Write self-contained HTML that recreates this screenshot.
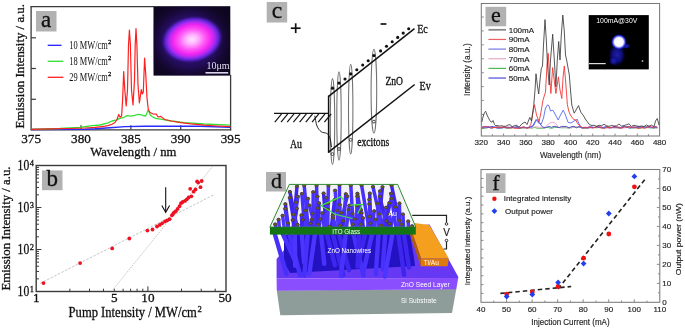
<!DOCTYPE html>
<html><head><meta charset="utf-8"><title>figure</title><style>
html,body{margin:0;padding:0;background:#fff;width:685px;height:328px;overflow:hidden}
svg{display:block}
</style></head><body>
<svg width="685" height="328" viewBox="0 0 685 328">
<rect width="685" height="328" fill="#fff"/>
<g id="pa">
<line x1="31.1" y1="6.6" x2="31.1" y2="129.8" stroke="#3a3a3a" stroke-width="1.3" />
<line x1="30.5" y1="129.8" x2="231.2" y2="129.8" stroke="#3a3a3a" stroke-width="1.3" />
<line x1="30.5" y1="6.6" x2="154" y2="6.6" stroke="#3a3a3a" stroke-width="1.3" />
<line x1="230.6" y1="75" x2="230.6" y2="130.4" stroke="#3a3a3a" stroke-width="1.3" />
<line x1="31.1" y1="37.8" x2="35.9" y2="37.8" stroke="#3a3a3a" stroke-width="1.2" />
<line x1="31.1" y1="68.5" x2="35.9" y2="68.5" stroke="#3a3a3a" stroke-width="1.2" />
<line x1="31.1" y1="99.3" x2="35.9" y2="99.3" stroke="#3a3a3a" stroke-width="1.2" />
<line x1="80.975" y1="129.8" x2="80.975" y2="125.30000000000001" stroke="#3a3a3a" stroke-width="1.2" />
<line x1="130.85" y1="129.8" x2="130.85" y2="125.30000000000001" stroke="#3a3a3a" stroke-width="1.2" />
<line x1="180.725" y1="129.8" x2="180.725" y2="125.30000000000001" stroke="#3a3a3a" stroke-width="1.2" />
<text x="31.1" y="143.2" font-family='"Liberation Serif",serif' font-size="13.2" text-anchor="middle" fill="#111" stroke="#111" stroke-width="0.3" >375</text>
<text x="80.975" y="143.2" font-family='"Liberation Serif",serif' font-size="13.2" text-anchor="middle" fill="#111" stroke="#111" stroke-width="0.3" >380</text>
<text x="130.85" y="143.2" font-family='"Liberation Serif",serif' font-size="13.2" text-anchor="middle" fill="#111" stroke="#111" stroke-width="0.3" >385</text>
<text x="180.725" y="143.2" font-family='"Liberation Serif",serif' font-size="13.2" text-anchor="middle" fill="#111" stroke="#111" stroke-width="0.3" >390</text>
<text x="230.6" y="143.2" font-family='"Liberation Serif",serif' font-size="13.2" text-anchor="middle" fill="#111" stroke="#111" stroke-width="0.3" >395</text>
<text x="133.3" y="156.3" font-family='"Liberation Serif",serif' font-size="13.4" text-anchor="middle" fill="#111" stroke="#111" stroke-width="0.3" textLength="86" lengthAdjust="spacingAndGlyphs">Wavelength / nm</text>
<text x="0" y="0" font-family='"Liberation Serif",serif' font-size="13.1" text-anchor="middle" fill="#111" stroke="#111" stroke-width="0.3" transform="translate(23.8,66.3) rotate(-90)" textLength="124.5" lengthAdjust="spacingAndGlyphs">Emission Intensity / a.u.</text>
<rect x="36" y="11" width="20.5" height="20.5" fill="#b2b2b2"/>
<text x="46.2" y="26.5" font-family='"Liberation Serif",serif' font-size="23" text-anchor="middle" fill="#111" stroke="#111" stroke-width="0.3" >a</text>
<line x1="47.7" y1="45.3" x2="61.5" y2="45.3" stroke="#2020ff" stroke-width="1.3" />
<text x="69.3" y="49.199999999999996" font-family='"Liberation Serif",serif' font-size="11.6" fill="#111" textLength="38.4" lengthAdjust="spacingAndGlyphs">10 MW/cm</text>
<text x="108" y="43.699999999999996" font-family='"Liberation Serif",serif' font-size="6.6" text-anchor="start" fill="#111" stroke="#111" stroke-width="0.3" >2</text>
<line x1="47.7" y1="61.3" x2="63.4" y2="61.3" stroke="#30e030" stroke-width="1.3" />
<text x="69.3" y="65.2" font-family='"Liberation Serif",serif' font-size="11.6" fill="#111" textLength="38.4" lengthAdjust="spacingAndGlyphs">18 MW/cm</text>
<text x="108" y="59.699999999999996" font-family='"Liberation Serif",serif' font-size="6.6" text-anchor="start" fill="#111" stroke="#111" stroke-width="0.3" >2</text>
<line x1="47.7" y1="77.3" x2="63.4" y2="77.3" stroke="#ff2020" stroke-width="1.3" />
<text x="69.3" y="81.2" font-family='"Liberation Serif",serif' font-size="11.6" fill="#111" textLength="38.4" lengthAdjust="spacingAndGlyphs">29 MW/cm</text>
<text x="108" y="75.7" font-family='"Liberation Serif",serif' font-size="6.6" text-anchor="start" fill="#111" stroke="#111" stroke-width="0.3" >2</text>
<path d="M31.00,129.50 L70.00,129.40 L85.00,129.20 L95.00,128.80 L110.00,127.70 L125.00,126.60 L145.00,126.30 L200.00,126.30 L230.40,127.30" fill="none" stroke="#2a2aff" stroke-width="1.4" stroke-linejoin="round"/>
<path d="M31.00,129.30 L60.00,128.50 L80.00,127.50 L90.00,125.90 L100.00,125.00 L108.00,122.90 L112.00,121.00 L116.00,120.10 L120.00,118.30 L124.00,117.30 L127.20,115.60 L130.30,116.20 L134.80,115.40 L137.50,114.50 L140.90,114.70 L143.00,115.50 L145.50,116.20 L147.00,113.00 L147.80,110.40 L148.70,111.00 L150.30,115.10 L152.00,116.50 L155.50,118.40 L162.10,119.40 L171.30,121.00 L184.40,122.60 L204.10,124.00 L230.40,125.20" fill="none" stroke="#35e035" stroke-width="1.3" stroke-linejoin="round"/>
<path d="M31.00,129.30 L50.00,128.90 L70.00,128.50 L85.00,128.00 L95.00,127.30 L100.00,126.80 L105.00,126.20 L108.00,125.60 L112.00,124.30 L115.00,122.50 L117.00,119.50 L118.70,114.50 L120.20,117.20 L121.60,116.00 L122.60,100.00 L123.70,71.50 L124.80,90.00 L126.20,106.00 L127.50,90.00 L128.50,45.00 L129.40,30.00 L130.40,45.00 L131.50,90.00 L133.00,105.00 L134.50,80.00 L135.20,45.00 L136.00,28.50 L136.90,45.00 L138.00,85.00 L139.40,103.00 L140.50,95.00 L141.30,89.50 L142.30,94.00 L143.30,92.00 L144.60,58.00 L145.80,75.00 L147.00,98.00 L148.30,109.50 L150.00,112.50 L152.90,113.80 L156.20,114.20 L158.10,117.00 L160.80,116.40 L164.70,119.50 L171.30,121.00 L180.50,122.60 L191.00,123.90 L204.10,125.20 L217.30,126.00 L230.40,126.70" fill="none" stroke="#ff2020" stroke-width="1.2" stroke-linejoin="round"/>
<defs>
<radialGradient id="ga" cx="0.5" cy="0.5" r="0.5">
<stop offset="0" stop-color="#ffe4ff"/>
<stop offset="0.2" stop-color="#ffb0ff"/>
<stop offset="0.42" stop-color="#ff58f6"/>
<stop offset="0.62" stop-color="#f024f0"/>
<stop offset="0.74" stop-color="#a82cf0"/>
<stop offset="0.86" stop-color="#5a22d0"/>
<stop offset="1" stop-color="#2a1070" stop-opacity="0"/>
</radialGradient>
<radialGradient id="ga2" cx="0.5" cy="0.5" r="0.5">
<stop offset="0" stop-color="#5020c0" stop-opacity="0.9"/>
<stop offset="0.6" stop-color="#30107a" stop-opacity="0.6"/>
<stop offset="1" stop-color="#0e0620" stop-opacity="0"/>
</radialGradient>
<radialGradient id="ge" cx="0.5" cy="0.5" r="0.5">
<stop offset="0" stop-color="#ffffff"/>
<stop offset="0.55" stop-color="#fafaff"/>
<stop offset="0.68" stop-color="#9090ff"/>
<stop offset="0.84" stop-color="#2020c0"/>
<stop offset="1" stop-color="#0000a0" stop-opacity="0"/>
</radialGradient>
<radialGradient id="ge2" cx="0.5" cy="0.5" r="0.5">
<stop offset="0" stop-color="#2a2ad8"/>
<stop offset="0.55" stop-color="#1414a8"/>
<stop offset="1" stop-color="#000040" stop-opacity="0"/>
</radialGradient>
</defs>
<rect x="153.5" y="6.2" width="76.8" height="69.4" fill="#0e0620"/>
<clipPath id="cpa"><rect x="153.5" y="6.2" width="76.8" height="69.4"/></clipPath><g clip-path="url(#cpa)"><ellipse cx="190" cy="41" rx="48" ry="44" fill="url(#ga2)"/><ellipse cx="192" cy="39.5" rx="31.5" ry="23.8" fill="url(#ga)" transform="rotate(-10 192 39.5)"/></g>
<text x="206.5" y="68.7" font-family='"Liberation Serif",serif' font-size="10" text-anchor="start" fill="#e4dcf4" >10μm</text>
<line x1="205.5" y1="72.8" x2="228.2" y2="72.8" stroke="#dcd4ee" stroke-width="1.6" />
</g>
<g id="pb">
<rect x="36.2" y="165.5" width="189.8" height="126.0" fill="none" stroke="#3a3a3a" stroke-width="1.4"/>
<line x1="36.2" y1="278.8567401821128" x2="39.0" y2="278.8567401821128" stroke="#3a3a3a" stroke-width="1.0" />
<line x1="36.2" y1="271.46090730177417" x2="39.0" y2="271.46090730177417" stroke="#3a3a3a" stroke-width="1.0" />
<line x1="36.2" y1="266.2134803642256" x2="39.0" y2="266.2134803642256" stroke="#3a3a3a" stroke-width="1.0" />
<line x1="36.2" y1="262.1432598178872" x2="39.0" y2="262.1432598178872" stroke="#3a3a3a" stroke-width="1.0" />
<line x1="36.2" y1="258.81764748388696" x2="39.0" y2="258.81764748388696" stroke="#3a3a3a" stroke-width="1.0" />
<line x1="36.2" y1="256.0058823194012" x2="39.0" y2="256.0058823194012" stroke="#3a3a3a" stroke-width="1.0" />
<line x1="36.2" y1="253.57022054633836" x2="39.0" y2="253.57022054633836" stroke="#3a3a3a" stroke-width="1.0" />
<line x1="36.2" y1="251.42181460354837" x2="39.0" y2="251.42181460354837" stroke="#3a3a3a" stroke-width="1.0" />
<line x1="36.2" y1="249.5" x2="41.400000000000006" y2="249.5" stroke="#3a3a3a" stroke-width="1.0" />
<line x1="36.2" y1="236.8567401821128" x2="39.0" y2="236.8567401821128" stroke="#3a3a3a" stroke-width="1.0" />
<line x1="36.2" y1="229.46090730177417" x2="39.0" y2="229.46090730177417" stroke="#3a3a3a" stroke-width="1.0" />
<line x1="36.2" y1="224.21348036422557" x2="39.0" y2="224.21348036422557" stroke="#3a3a3a" stroke-width="1.0" />
<line x1="36.2" y1="220.1432598178872" x2="39.0" y2="220.1432598178872" stroke="#3a3a3a" stroke-width="1.0" />
<line x1="36.2" y1="216.81764748388696" x2="39.0" y2="216.81764748388696" stroke="#3a3a3a" stroke-width="1.0" />
<line x1="36.2" y1="214.00588231940122" x2="39.0" y2="214.00588231940122" stroke="#3a3a3a" stroke-width="1.0" />
<line x1="36.2" y1="211.57022054633836" x2="39.0" y2="211.57022054633836" stroke="#3a3a3a" stroke-width="1.0" />
<line x1="36.2" y1="209.42181460354834" x2="39.0" y2="209.42181460354834" stroke="#3a3a3a" stroke-width="1.0" />
<line x1="36.2" y1="207.5" x2="41.400000000000006" y2="207.5" stroke="#3a3a3a" stroke-width="1.0" />
<line x1="36.2" y1="194.8567401821128" x2="39.0" y2="194.8567401821128" stroke="#3a3a3a" stroke-width="1.0" />
<line x1="36.2" y1="187.46090730177417" x2="39.0" y2="187.46090730177417" stroke="#3a3a3a" stroke-width="1.0" />
<line x1="36.2" y1="182.21348036422557" x2="39.0" y2="182.21348036422557" stroke="#3a3a3a" stroke-width="1.0" />
<line x1="36.2" y1="178.1432598178872" x2="39.0" y2="178.1432598178872" stroke="#3a3a3a" stroke-width="1.0" />
<line x1="36.2" y1="174.81764748388696" x2="39.0" y2="174.81764748388696" stroke="#3a3a3a" stroke-width="1.0" />
<line x1="36.2" y1="172.00588231940122" x2="39.0" y2="172.00588231940122" stroke="#3a3a3a" stroke-width="1.0" />
<line x1="36.2" y1="169.57022054633836" x2="39.0" y2="169.57022054633836" stroke="#3a3a3a" stroke-width="1.0" />
<line x1="36.2" y1="167.42181460354834" x2="39.0" y2="167.42181460354834" stroke="#3a3a3a" stroke-width="1.0" />
<line x1="69.82948906172889" y1="291.5" x2="69.82948906172889" y2="288.7" stroke="#3a3a3a" stroke-width="1.0" />
<line x1="89.5014790812526" y1="291.5" x2="89.5014790812526" y2="288.7" stroke="#3a3a3a" stroke-width="1.0" />
<line x1="103.45897812345778" y1="291.5" x2="103.45897812345778" y2="288.7" stroke="#3a3a3a" stroke-width="1.0" />
<line x1="114.28525546913556" y1="291.5" x2="114.28525546913556" y2="288.7" stroke="#3a3a3a" stroke-width="1.0" />
<line x1="123.13096814298149" y1="291.5" x2="123.13096814298149" y2="288.7" stroke="#3a3a3a" stroke-width="1.0" />
<line x1="130.60991164372695" y1="291.5" x2="130.60991164372695" y2="288.7" stroke="#3a3a3a" stroke-width="1.0" />
<line x1="137.0884671851867" y1="291.5" x2="137.0884671851867" y2="288.7" stroke="#3a3a3a" stroke-width="1.0" />
<line x1="142.8029581625052" y1="291.5" x2="142.8029581625052" y2="288.7" stroke="#3a3a3a" stroke-width="1.0" />
<line x1="147.91474453086445" y1="291.5" x2="147.91474453086445" y2="286.3" stroke="#3a3a3a" stroke-width="1.0" />
<line x1="181.54423359259334" y1="291.5" x2="181.54423359259334" y2="288.7" stroke="#3a3a3a" stroke-width="1.0" />
<line x1="201.21622361211706" y1="291.5" x2="201.21622361211706" y2="288.7" stroke="#3a3a3a" stroke-width="1.0" />
<line x1="215.17372265432226" y1="291.5" x2="215.17372265432226" y2="288.7" stroke="#3a3a3a" stroke-width="1.0" />
<text x="29.2" y="295.8" font-family='"Liberation Serif",serif' font-size="14.2" text-anchor="end" fill="#111" stroke="#111" stroke-width="0.3" textLength="11.6" lengthAdjust="spacingAndGlyphs">10</text>
<text x="29.7" y="291.7" font-family='"Liberation Serif",serif' font-size="8.4" text-anchor="start" fill="#111" stroke="#111" stroke-width="0.3" >1</text>
<text x="29.2" y="253.8" font-family='"Liberation Serif",serif' font-size="14.2" text-anchor="end" fill="#111" stroke="#111" stroke-width="0.3" textLength="11.6" lengthAdjust="spacingAndGlyphs">10</text>
<text x="29.7" y="249.7" font-family='"Liberation Serif",serif' font-size="8.4" text-anchor="start" fill="#111" stroke="#111" stroke-width="0.3" >2</text>
<text x="29.2" y="211.8" font-family='"Liberation Serif",serif' font-size="14.2" text-anchor="end" fill="#111" stroke="#111" stroke-width="0.3" textLength="11.6" lengthAdjust="spacingAndGlyphs">10</text>
<text x="29.7" y="207.7" font-family='"Liberation Serif",serif' font-size="8.4" text-anchor="start" fill="#111" stroke="#111" stroke-width="0.3" >3</text>
<text x="29.2" y="169.8" font-family='"Liberation Serif",serif' font-size="14.2" text-anchor="end" fill="#111" stroke="#111" stroke-width="0.3" textLength="11.6" lengthAdjust="spacingAndGlyphs">10</text>
<text x="29.7" y="165.7" font-family='"Liberation Serif",serif' font-size="8.4" text-anchor="start" fill="#111" stroke="#111" stroke-width="0.3" >4</text>
<text x="36.2" y="302.4" font-family='"Liberation Serif",serif' font-size="13.2" text-anchor="middle" fill="#111" stroke="#111" stroke-width="0.3" >1</text>
<text x="114.28525546913556" y="302.4" font-family='"Liberation Serif",serif' font-size="13.2" text-anchor="middle" fill="#111" stroke="#111" stroke-width="0.3" >5</text>
<text x="147.91474453086445" y="302.4" font-family='"Liberation Serif",serif' font-size="13.2" text-anchor="middle" fill="#111" stroke="#111" stroke-width="0.3" >10</text>
<text x="225.0" y="302.4" font-family='"Liberation Serif",serif' font-size="13.2" text-anchor="middle" fill="#111" stroke="#111" stroke-width="0.3" >50</text>
<text x="68.6" y="316.6" font-family='"Liberation Serif",serif' font-size="14.2" text-anchor="start" fill="#111" stroke="#111" stroke-width="0.3" textLength="128.2" lengthAdjust="spacingAndGlyphs">Pump Intensity / MW/cm</text>
<text x="197.4" y="312.2" font-family='"Liberation Serif",serif' font-size="8.6" text-anchor="start" fill="#111" stroke="#111" stroke-width="0.3" >2</text>
<text x="0" y="0" font-family='"Liberation Serif",serif' font-size="13.1" text-anchor="middle" fill="#111" stroke="#111" stroke-width="0.3" transform="translate(9.8,228.5) rotate(-90)" textLength="124" lengthAdjust="spacingAndGlyphs">Emission Intensity / a.u.</text>
<rect x="42" y="170.4" width="20.5" height="19.8" fill="#b2b2b2"/>
<text x="52.2" y="185.8" font-family='"Liberation Serif",serif' font-size="23" text-anchor="middle" fill="#111" stroke="#111" stroke-width="0.3" >b</text>
<line x1="40" y1="283.5" x2="214.7" y2="194.3" stroke="#aaa" stroke-width="0.7" stroke-dasharray="2.5,1.5"/>
<line x1="113.2" y1="289.4" x2="213.4" y2="165.5" stroke="#aaa" stroke-width="0.7" stroke-dasharray="1.5,1"/>
<circle cx="43.5" cy="283.1" r="1.9" fill="#ee1122"/>
<circle cx="80.1" cy="263.1" r="1.9" fill="#ee1122"/>
<circle cx="112.2" cy="248.4" r="1.9" fill="#ee1122"/>
<circle cx="129.3" cy="238.5" r="1.9" fill="#ee1122"/>
<circle cx="147.4" cy="230.6" r="1.9" fill="#ee1122"/>
<circle cx="152.5" cy="229.5" r="1.9" fill="#ee1122"/>
<circle cx="157" cy="226.5" r="1.9" fill="#ee1122"/>
<circle cx="159.8" cy="224.9" r="1.9" fill="#ee1122"/>
<circle cx="162.1" cy="223.3" r="1.9" fill="#ee1122"/>
<circle cx="165" cy="221.5" r="1.9" fill="#ee1122"/>
<circle cx="167.3" cy="220.3" r="1.9" fill="#ee1122"/>
<circle cx="169.6" cy="219.2" r="1.9" fill="#ee1122"/>
<circle cx="171.9" cy="215.3" r="1.9" fill="#ee1122"/>
<circle cx="173" cy="213.9" r="1.9" fill="#ee1122"/>
<circle cx="174.2" cy="212.3" r="1.9" fill="#ee1122"/>
<circle cx="175.8" cy="211.2" r="1.9" fill="#ee1122"/>
<circle cx="177.6" cy="208.9" r="1.9" fill="#ee1122"/>
<circle cx="179.5" cy="206.2" r="1.9" fill="#ee1122"/>
<circle cx="181" cy="203.2" r="1.9" fill="#ee1122"/>
<circle cx="182.7" cy="202" r="1.9" fill="#ee1122"/>
<circle cx="185" cy="200.9" r="1.9" fill="#ee1122"/>
<circle cx="186.8" cy="199.3" r="1.9" fill="#ee1122"/>
<circle cx="188.6" cy="197.5" r="1.9" fill="#ee1122"/>
<circle cx="191.4" cy="196.3" r="1.9" fill="#ee1122"/>
<circle cx="190.2" cy="188.8" r="1.9" fill="#ee1122"/>
<circle cx="193.6" cy="191.7" r="1.9" fill="#ee1122"/>
<circle cx="195.5" cy="189.5" r="1.9" fill="#ee1122"/>
<circle cx="200.5" cy="187.2" r="1.9" fill="#ee1122"/>
<circle cx="197.1" cy="181.4" r="1.9" fill="#ee1122"/>
<circle cx="201.7" cy="181" r="1.9" fill="#ee1122"/>
<circle cx="198.2" cy="182.6" r="1.9" fill="#ee1122"/>
<line x1="165.7" y1="187.2" x2="165.7" y2="211.5" stroke="#111" stroke-width="1.1" />
<path d="M161.80,205.50 L165.70,212.30 L169.60,205.50" fill="none" stroke="#111" stroke-width="1.1"/>
</g>
<g id="pc">
<rect x="266.7" y="2" width="20.5" height="20.5" fill="#b2b2b2"/>
<text x="277" y="17.8" font-family='"Liberation Serif",serif' font-size="23.5" text-anchor="middle" fill="#111" stroke="#111" stroke-width="0.3" >c</text>
<line x1="290.8" y1="28.2" x2="300.6" y2="28.2" stroke="#111" stroke-width="1.7" />
<line x1="295.7" y1="23.3" x2="295.7" y2="33.1" stroke="#111" stroke-width="1.7" />
<line x1="380.6" y1="24" x2="386.4" y2="24" stroke="#111" stroke-width="1.7" />
<ellipse cx="332.5" cy="121.55" rx="2.2" ry="42.95" fill="none" stroke="#707070" stroke-width="1.05"/>
<ellipse cx="339" cy="116.10000000000001" rx="2.2" ry="44.2" fill="none" stroke="#707070" stroke-width="1.05"/>
<ellipse cx="350.7" cy="109.15" rx="2.2" ry="44.85" fill="none" stroke="#707070" stroke-width="1.05"/>
<ellipse cx="373.9" cy="91.15" rx="2.8" ry="41.85" fill="none" stroke="#707070" stroke-width="1.05"/>
<line x1="328.6" y1="96.3" x2="414.5" y2="28.6" stroke="#111" stroke-width="1.5" />
<line x1="328.6" y1="152.2" x2="414.7" y2="84.5" stroke="#111" stroke-width="1.5" />
<line x1="328.6" y1="95.6" x2="328.6" y2="152.9" stroke="#111" stroke-width="1.5" />
<line x1="274" y1="113.4" x2="329" y2="113.4" stroke="#111" stroke-width="1.4" />
<line x1="274.8" y1="122.2" x2="281.6" y2="113.8" stroke="#111" stroke-width="1.15" />
<line x1="281.0" y1="122.2" x2="287.8" y2="113.8" stroke="#111" stroke-width="1.15" />
<line x1="287.2" y1="122.2" x2="294.0" y2="113.8" stroke="#111" stroke-width="1.15" />
<line x1="293.40000000000003" y1="122.2" x2="300.20000000000005" y2="113.8" stroke="#111" stroke-width="1.15" />
<line x1="299.6" y1="122.2" x2="306.40000000000003" y2="113.8" stroke="#111" stroke-width="1.15" />
<line x1="305.8" y1="122.2" x2="312.6" y2="113.8" stroke="#111" stroke-width="1.15" />
<line x1="312.0" y1="122.2" x2="318.8" y2="113.8" stroke="#111" stroke-width="1.15" />
<line x1="318.2" y1="122.2" x2="325.0" y2="113.8" stroke="#111" stroke-width="1.15" />
<line x1="324.40000000000003" y1="122.2" x2="331.20000000000005" y2="113.8" stroke="#111" stroke-width="1.15" />
<path d="M314.80,115.70 C315.17,117.42 315.93,123.33 317.00,126.00 C318.07,128.67 319.60,130.48 321.20,131.70 C322.80,132.92 325.33,132.65 326.60,133.30 C327.87,133.95 328.17,134.48 328.80,135.60 C329.43,136.72 329.95,138.10 330.40,140.00 C330.85,141.90 331.32,145.83 331.50,147.00" fill="none" stroke="#111" stroke-width="0.9"/>
<circle cx="332.5" cy="154.1" r="1.4" fill="#fff" stroke="#333" stroke-width="0.9"/>
<circle cx="332.5" cy="88.2" r="1.6" fill="#111"/>
<circle cx="339" cy="149.0" r="1.4" fill="#fff" stroke="#333" stroke-width="0.9"/>
<circle cx="339" cy="83.1" r="1.6" fill="#111"/>
<circle cx="350.7" cy="139.8" r="1.4" fill="#fff" stroke="#333" stroke-width="0.9"/>
<circle cx="350.7" cy="73.9" r="1.6" fill="#111"/>
<circle cx="373.9" cy="121.6" r="1.4" fill="#fff" stroke="#333" stroke-width="0.9"/>
<circle cx="373.9" cy="55.6" r="1.6" fill="#111"/>
<circle cx="345.0" cy="79.0" r="1.55" fill="#111"/>
<circle cx="356.8" cy="69.7" r="1.55" fill="#111"/>
<circle cx="362.7" cy="65.0" r="1.55" fill="#111"/>
<circle cx="368.2" cy="60.7" r="1.55" fill="#111"/>
<circle cx="380.6" cy="50.9" r="1.55" fill="#111"/>
<circle cx="386.5" cy="46.3" r="1.55" fill="#111"/>
<circle cx="392.2" cy="41.8" r="1.55" fill="#111"/>
<circle cx="397.7" cy="37.4" r="1.55" fill="#111"/>
<circle cx="403.2" cy="33.1" r="1.55" fill="#111"/>
<circle cx="408.7" cy="28.8" r="1.55" fill="#111"/>
<text x="417.2" y="32.8" font-family='"Liberation Serif",serif' font-size="11.5" text-anchor="start" fill="#111" stroke="#111" stroke-width="0.3" textLength="10.6" lengthAdjust="spacingAndGlyphs">Ec</text>
<text x="419.5" y="89.8" font-family='"Liberation Serif",serif' font-size="11.5" text-anchor="start" fill="#111" stroke="#111" stroke-width="0.3" textLength="11.2" lengthAdjust="spacingAndGlyphs">Ev</text>
<text x="385.4" y="84.8" font-family='"Liberation Serif",serif' font-size="11.5" text-anchor="start" fill="#111" stroke="#111" stroke-width="0.3" textLength="17.6" lengthAdjust="spacingAndGlyphs">ZnO</text>
<text x="289.9" y="148" font-family='"Liberation Serif",serif' font-size="11.5" text-anchor="start" fill="#111" stroke="#111" stroke-width="0.3" textLength="12" lengthAdjust="spacingAndGlyphs">Au</text>
<text x="357.2" y="146" font-family='"Liberation Serif",serif' font-size="11.5" text-anchor="start" fill="#111" stroke="#111" stroke-width="0.3" textLength="32" lengthAdjust="spacingAndGlyphs">excitons</text>
</g>
<g id="pd">
<rect x="266" y="172" width="20" height="19.5" fill="#b2b2b2"/>
<text x="276.5" y="188.4" font-family='"Liberation Serif",serif' font-size="22" text-anchor="middle" fill="#111" stroke="#111" stroke-width="0.3" >d</text>
<polygon points="276.8,290.6 456.3,289 452,312.9 280.3,315.2" fill="#8e9c9a"/>
<polygon points="276.6,259 284,250 296,234 429.5,224.5 458.2,276.8 458.2,278.2 276.6,278.6" fill="#6638f4"/>
<polygon points="276.6,278.6 458.2,278 456.3,289.2 276.8,290.8" fill="#8a4eff"/>
<polygon points="408.7,222.2 429.3,225.1 448.8,258.4 421,258.4" fill="#f4a01e"/>
<polygon points="408.7,222.2 421,258.4 420.8,266.3 409,232" fill="#b45c08"/>
<polygon points="421,258.4 448.8,258.4 447.6,266.3 420.8,266.3" fill="#de7a0c"/>
<polygon points="289.3,184.4 397.7,184.4 415.8,227.1 269.9,227.1" fill="#f2f2f6"/>
<polygon points="284,234.6 410,234.6 414,258 415,266 290,273 284,262" fill="#2212c2"/>
<line x1="274.5" y1="233" x2="286.4" y2="273.9" stroke="#4630fa" stroke-width="4.4" stroke-linecap="round"/>
<line x1="282.4" y1="233" x2="295.7" y2="262.4" stroke="#4832fc" stroke-width="4.4" stroke-linecap="round"/>
<line x1="289.0" y1="233" x2="300.2" y2="275.5" stroke="#4630fa" stroke-width="4.4" stroke-linecap="round"/>
<line x1="294.8" y1="233" x2="295.2" y2="265.7" stroke="#4c36ff" stroke-width="4.4" stroke-linecap="round"/>
<line x1="301.7" y1="233" x2="304.1" y2="262.2" stroke="#4c36ff" stroke-width="4.4" stroke-linecap="round"/>
<line x1="307.7" y1="233" x2="304.3" y2="275.7" stroke="#4630fa" stroke-width="4.4" stroke-linecap="round"/>
<line x1="315.1" y1="233" x2="309.3" y2="274.0" stroke="#4c36ff" stroke-width="4.4" stroke-linecap="round"/>
<line x1="321.0" y1="233" x2="324.3" y2="263.9" stroke="#4832fc" stroke-width="4.4" stroke-linecap="round"/>
<line x1="326.5" y1="233" x2="334.9" y2="265.1" stroke="#3e26ee" stroke-width="4.4" stroke-linecap="round"/>
<line x1="332.5" y1="233" x2="343.2" y2="275.1" stroke="#3e26ee" stroke-width="4.4" stroke-linecap="round"/>
<line x1="338.7" y1="233" x2="349.0" y2="270.1" stroke="#3e26ee" stroke-width="4.4" stroke-linecap="round"/>
<line x1="345.9" y1="233" x2="341.0" y2="276.1" stroke="#4832fc" stroke-width="4.4" stroke-linecap="round"/>
<line x1="353.2" y1="233" x2="363.5" y2="275.4" stroke="#4630fa" stroke-width="4.4" stroke-linecap="round"/>
<line x1="359.4" y1="233" x2="357.6" y2="264.5" stroke="#3e26ee" stroke-width="4.4" stroke-linecap="round"/>
<line x1="365.3" y1="233" x2="357.6" y2="266.5" stroke="#3e26ee" stroke-width="4.4" stroke-linecap="round"/>
<line x1="372.3" y1="233" x2="363.3" y2="272.2" stroke="#4630fa" stroke-width="4.4" stroke-linecap="round"/>
<line x1="378.6" y1="233" x2="375.8" y2="274.3" stroke="#4832fc" stroke-width="4.4" stroke-linecap="round"/>
<line x1="385.3" y1="233" x2="382.6" y2="269.2" stroke="#4630fa" stroke-width="4.4" stroke-linecap="round"/>
<line x1="392.6" y1="233" x2="384.7" y2="276.6" stroke="#4c36ff" stroke-width="4.4" stroke-linecap="round"/>
<line x1="398.1" y1="233" x2="404.1" y2="274.7" stroke="#3e26ee" stroke-width="4.4" stroke-linecap="round"/>
<line x1="403.7" y1="233" x2="409.0" y2="267.5" stroke="#3e26ee" stroke-width="4.4" stroke-linecap="round"/>
<clipPath id="cpd"><polygon points="289.3,184.4 397.7,184.4 415.8,227.1 415.8,230 269.9,230 269.9,227.1"/></clipPath><g clip-path="url(#cpd)">
<line x1="339.5" y1="185.0" x2="339.3" y2="248.6" stroke="#4630fa" stroke-width="3.5" stroke-linecap="round"/>
<ellipse cx="339.5" cy="185.0" rx="1.75" ry="1.25" fill="#6e6024" stroke="#3e320c" stroke-width="0.5"/>
<line x1="361.6" y1="185.3" x2="372.6" y2="249.4" stroke="#4630fa" stroke-width="3.5" stroke-linecap="round"/>
<ellipse cx="361.6" cy="185.3" rx="1.75" ry="1.25" fill="#6e6024" stroke="#3e320c" stroke-width="0.5"/>
<line x1="350.8" y1="185.4" x2="355.0" y2="254.3" stroke="#4832fc" stroke-width="3.5" stroke-linecap="round"/>
<ellipse cx="350.8" cy="185.4" rx="1.75" ry="1.25" fill="#6e6024" stroke="#3e320c" stroke-width="0.5"/>
<line x1="391.5" y1="185.4" x2="406.2" y2="254.6" stroke="#3e26ee" stroke-width="3.5" stroke-linecap="round"/>
<ellipse cx="391.5" cy="185.4" rx="1.75" ry="1.25" fill="#6e6024" stroke="#3e320c" stroke-width="0.5"/>
<line x1="316.6" y1="185.5" x2="317.7" y2="254.6" stroke="#4630fa" stroke-width="3.5" stroke-linecap="round"/>
<ellipse cx="316.6" cy="185.5" rx="1.75" ry="1.25" fill="#6e6024" stroke="#3e320c" stroke-width="0.5"/>
<line x1="304.2" y1="185.6" x2="310.3" y2="249.6" stroke="#4832fc" stroke-width="3.5" stroke-linecap="round"/>
<ellipse cx="304.2" cy="185.6" rx="1.75" ry="1.25" fill="#6e6024" stroke="#3e320c" stroke-width="0.5"/>
<line x1="328.4" y1="185.8" x2="326.9" y2="253.9" stroke="#4c36ff" stroke-width="3.5" stroke-linecap="round"/>
<ellipse cx="328.4" cy="185.8" rx="1.75" ry="1.25" fill="#6e6024" stroke="#3e320c" stroke-width="0.5"/>
<line x1="297.0" y1="186.3" x2="291.0" y2="252.5" stroke="#3e26ee" stroke-width="3.5" stroke-linecap="round"/>
<ellipse cx="297.0" cy="186.3" rx="1.75" ry="1.25" fill="#6e6024" stroke="#3e320c" stroke-width="0.5"/>
<line x1="373.0" y1="186.8" x2="388.2" y2="254.6" stroke="#4630fa" stroke-width="3.5" stroke-linecap="round"/>
<ellipse cx="373.0" cy="186.8" rx="1.75" ry="1.25" fill="#6e6024" stroke="#3e320c" stroke-width="0.5"/>
<line x1="382.5" y1="186.9" x2="375.8" y2="252.5" stroke="#3e26ee" stroke-width="3.5" stroke-linecap="round"/>
<ellipse cx="382.5" cy="186.9" rx="1.75" ry="1.25" fill="#6e6024" stroke="#3e320c" stroke-width="0.5"/>
<line x1="335.1" y1="190.4" x2="340.6" y2="253.3" stroke="#4c36ff" stroke-width="3.5" stroke-linecap="round"/>
<ellipse cx="335.1" cy="190.4" rx="1.75" ry="1.25" fill="#6e6024" stroke="#3e320c" stroke-width="0.5"/>
<line x1="380.0" y1="191.0" x2="379.3" y2="257.8" stroke="#4c36ff" stroke-width="3.5" stroke-linecap="round"/>
<ellipse cx="380.0" cy="191.0" rx="1.75" ry="1.25" fill="#6e6024" stroke="#3e320c" stroke-width="0.5"/>
<line x1="289.9" y1="191.8" x2="302.6" y2="254.3" stroke="#3e26ee" stroke-width="3.5" stroke-linecap="round"/>
<ellipse cx="289.9" cy="191.8" rx="1.75" ry="1.25" fill="#6e6024" stroke="#3e320c" stroke-width="0.5"/>
<line x1="313.2" y1="191.9" x2="312.8" y2="254.4" stroke="#4832fc" stroke-width="3.5" stroke-linecap="round"/>
<ellipse cx="313.2" cy="191.9" rx="1.75" ry="1.25" fill="#6e6024" stroke="#3e320c" stroke-width="0.5"/>
<line x1="369.8" y1="193.3" x2="370.4" y2="259.4" stroke="#3e26ee" stroke-width="3.5" stroke-linecap="round"/>
<ellipse cx="369.8" cy="193.3" rx="1.75" ry="1.25" fill="#6e6024" stroke="#3e320c" stroke-width="0.5"/>
<line x1="323.6" y1="193.3" x2="328.4" y2="259.3" stroke="#3e26ee" stroke-width="3.5" stroke-linecap="round"/>
<ellipse cx="323.6" cy="193.3" rx="1.75" ry="1.25" fill="#6e6024" stroke="#3e320c" stroke-width="0.5"/>
<line x1="391.0" y1="193.5" x2="400.0" y2="254.8" stroke="#4630fa" stroke-width="3.5" stroke-linecap="round"/>
<ellipse cx="391.0" cy="193.5" rx="1.75" ry="1.25" fill="#6e6024" stroke="#3e320c" stroke-width="0.5"/>
<line x1="357.4" y1="193.5" x2="368.4" y2="255.9" stroke="#4630fa" stroke-width="3.5" stroke-linecap="round"/>
<ellipse cx="357.4" cy="193.5" rx="1.75" ry="1.25" fill="#6e6024" stroke="#3e320c" stroke-width="0.5"/>
<line x1="301.9" y1="193.8" x2="307.1" y2="258.1" stroke="#4630fa" stroke-width="3.5" stroke-linecap="round"/>
<ellipse cx="301.9" cy="193.8" rx="1.75" ry="1.25" fill="#6e6024" stroke="#3e320c" stroke-width="0.5"/>
<line x1="345.8" y1="193.9" x2="340.9" y2="258.8" stroke="#4630fa" stroke-width="3.5" stroke-linecap="round"/>
<ellipse cx="345.8" cy="193.9" rx="1.75" ry="1.25" fill="#6e6024" stroke="#3e320c" stroke-width="0.5"/>
<line x1="357.3" y1="196.2" x2="359.9" y2="257.5" stroke="#4630fa" stroke-width="3.5" stroke-linecap="round"/>
<ellipse cx="357.3" cy="196.2" rx="1.75" ry="1.25" fill="#6e6024" stroke="#3e320c" stroke-width="0.5"/>
<line x1="347.2" y1="196.3" x2="332.4" y2="257.8" stroke="#4630fa" stroke-width="3.5" stroke-linecap="round"/>
<ellipse cx="347.2" cy="196.3" rx="1.75" ry="1.25" fill="#6e6024" stroke="#3e320c" stroke-width="0.5"/>
<line x1="317.5" y1="196.4" x2="307.7" y2="256.7" stroke="#4c36ff" stroke-width="3.5" stroke-linecap="round"/>
<ellipse cx="317.5" cy="196.4" rx="1.75" ry="1.25" fill="#6e6024" stroke="#3e320c" stroke-width="0.5"/>
<line x1="379.8" y1="196.4" x2="394.4" y2="259.0" stroke="#3e26ee" stroke-width="3.5" stroke-linecap="round"/>
<ellipse cx="379.8" cy="196.4" rx="1.75" ry="1.25" fill="#6e6024" stroke="#3e320c" stroke-width="0.5"/>
<line x1="297.9" y1="196.5" x2="288.9" y2="259.6" stroke="#4832fc" stroke-width="3.5" stroke-linecap="round"/>
<ellipse cx="297.9" cy="196.5" rx="1.75" ry="1.25" fill="#6e6024" stroke="#3e320c" stroke-width="0.5"/>
<line x1="289.8" y1="197.7" x2="301.0" y2="261.0" stroke="#3e26ee" stroke-width="3.5" stroke-linecap="round"/>
<ellipse cx="289.8" cy="197.7" rx="1.75" ry="1.25" fill="#6e6024" stroke="#3e320c" stroke-width="0.5"/>
<line x1="326.3" y1="197.8" x2="329.2" y2="260.2" stroke="#4630fa" stroke-width="3.5" stroke-linecap="round"/>
<ellipse cx="326.3" cy="197.8" rx="1.75" ry="1.25" fill="#6e6024" stroke="#3e320c" stroke-width="0.5"/>
<line x1="391.4" y1="198.5" x2="375.5" y2="262.3" stroke="#4c36ff" stroke-width="3.5" stroke-linecap="round"/>
<ellipse cx="391.4" cy="198.5" rx="1.75" ry="1.25" fill="#6e6024" stroke="#3e320c" stroke-width="0.5"/>
<line x1="307.9" y1="198.6" x2="299.2" y2="259.8" stroke="#4832fc" stroke-width="3.5" stroke-linecap="round"/>
<ellipse cx="307.9" cy="198.6" rx="1.75" ry="1.25" fill="#6e6024" stroke="#3e320c" stroke-width="0.5"/>
<line x1="369.3" y1="199.4" x2="373.9" y2="262.4" stroke="#4c36ff" stroke-width="3.5" stroke-linecap="round"/>
<ellipse cx="369.3" cy="199.4" rx="1.75" ry="1.25" fill="#6e6024" stroke="#3e320c" stroke-width="0.5"/>
<line x1="334.6" y1="199.8" x2="327.5" y2="260.2" stroke="#3e26ee" stroke-width="3.5" stroke-linecap="round"/>
<ellipse cx="334.6" cy="199.8" rx="1.75" ry="1.25" fill="#6e6024" stroke="#3e320c" stroke-width="0.5"/>
<line x1="296.1" y1="202.3" x2="292.2" y2="265.2" stroke="#4c36ff" stroke-width="3.5" stroke-linecap="round"/>
<ellipse cx="296.1" cy="202.3" rx="1.75" ry="1.25" fill="#6e6024" stroke="#3e320c" stroke-width="0.5"/>
<line x1="389.4" y1="202.9" x2="374.6" y2="263.3" stroke="#3e26ee" stroke-width="3.5" stroke-linecap="round"/>
<ellipse cx="389.4" cy="202.9" rx="1.75" ry="1.25" fill="#6e6024" stroke="#3e320c" stroke-width="0.5"/>
<line x1="319.0" y1="203.1" x2="318.7" y2="265.8" stroke="#3e26ee" stroke-width="3.5" stroke-linecap="round"/>
<ellipse cx="319.0" cy="203.1" rx="1.75" ry="1.25" fill="#6e6024" stroke="#3e320c" stroke-width="0.5"/>
<line x1="399.4" y1="203.3" x2="400.9" y2="265.3" stroke="#4630fa" stroke-width="3.5" stroke-linecap="round"/>
<ellipse cx="399.4" cy="203.3" rx="1.75" ry="1.25" fill="#6e6024" stroke="#3e320c" stroke-width="0.5"/>
<line x1="328.0" y1="203.4" x2="326.2" y2="263.8" stroke="#4c36ff" stroke-width="3.5" stroke-linecap="round"/>
<ellipse cx="328.0" cy="203.4" rx="1.75" ry="1.25" fill="#6e6024" stroke="#3e320c" stroke-width="0.5"/>
<line x1="377.8" y1="203.6" x2="378.8" y2="262.0" stroke="#4c36ff" stroke-width="3.5" stroke-linecap="round"/>
<ellipse cx="377.8" cy="203.6" rx="1.75" ry="1.25" fill="#6e6024" stroke="#3e320c" stroke-width="0.5"/>
<line x1="369.3" y1="204.0" x2="377.7" y2="261.1" stroke="#4630fa" stroke-width="3.5" stroke-linecap="round"/>
<ellipse cx="369.3" cy="204.0" rx="1.75" ry="1.25" fill="#6e6024" stroke="#3e320c" stroke-width="0.5"/>
<line x1="285.4" y1="204.0" x2="293.1" y2="264.2" stroke="#3e26ee" stroke-width="3.5" stroke-linecap="round"/>
<ellipse cx="285.4" cy="204.0" rx="1.75" ry="1.25" fill="#6e6024" stroke="#3e320c" stroke-width="0.5"/>
<line x1="339.8" y1="204.7" x2="340.8" y2="261.0" stroke="#4c36ff" stroke-width="3.5" stroke-linecap="round"/>
<ellipse cx="339.8" cy="204.7" rx="1.75" ry="1.25" fill="#6e6024" stroke="#3e320c" stroke-width="0.5"/>
<line x1="309.3" y1="205.3" x2="324.7" y2="262.8" stroke="#4c36ff" stroke-width="3.5" stroke-linecap="round"/>
<ellipse cx="309.3" cy="205.3" rx="1.75" ry="1.25" fill="#6e6024" stroke="#3e320c" stroke-width="0.5"/>
<line x1="349.3" y1="205.4" x2="341.8" y2="262.8" stroke="#4832fc" stroke-width="3.5" stroke-linecap="round"/>
<ellipse cx="349.3" cy="205.4" rx="1.75" ry="1.25" fill="#6e6024" stroke="#3e320c" stroke-width="0.5"/>
<line x1="356.9" y1="205.7" x2="356.1" y2="265.1" stroke="#4832fc" stroke-width="3.5" stroke-linecap="round"/>
<ellipse cx="356.9" cy="205.7" rx="1.75" ry="1.25" fill="#6e6024" stroke="#3e320c" stroke-width="0.5"/>
<line x1="395.6" y1="207.0" x2="381.9" y2="264.6" stroke="#4832fc" stroke-width="3.5" stroke-linecap="round"/>
<ellipse cx="395.6" cy="207.0" rx="1.75" ry="1.25" fill="#6e6024" stroke="#3e320c" stroke-width="0.5"/>
<line x1="386.1" y1="207.5" x2="375.2" y2="265.1" stroke="#4630fa" stroke-width="3.5" stroke-linecap="round"/>
<ellipse cx="386.1" cy="207.5" rx="1.75" ry="1.25" fill="#6e6024" stroke="#3e320c" stroke-width="0.5"/>
<line x1="317.9" y1="208.1" x2="306.5" y2="268.5" stroke="#3e26ee" stroke-width="3.5" stroke-linecap="round"/>
<ellipse cx="317.9" cy="208.1" rx="1.75" ry="1.25" fill="#6e6024" stroke="#3e320c" stroke-width="0.5"/>
<line x1="296.8" y1="208.5" x2="287.1" y2="268.4" stroke="#3e26ee" stroke-width="3.5" stroke-linecap="round"/>
<ellipse cx="296.8" cy="208.5" rx="1.75" ry="1.25" fill="#6e6024" stroke="#3e320c" stroke-width="0.5"/>
<line x1="285.2" y1="208.7" x2="294.1" y2="267.6" stroke="#4832fc" stroke-width="3.5" stroke-linecap="round"/>
<ellipse cx="285.2" cy="208.7" rx="1.75" ry="1.25" fill="#6e6024" stroke="#3e320c" stroke-width="0.5"/>
<line x1="327.5" y1="209.2" x2="316.4" y2="265.7" stroke="#4c36ff" stroke-width="3.5" stroke-linecap="round"/>
<ellipse cx="327.5" cy="209.2" rx="1.75" ry="1.25" fill="#6e6024" stroke="#3e320c" stroke-width="0.5"/>
<line x1="348.6" y1="209.7" x2="363.9" y2="268.4" stroke="#4832fc" stroke-width="3.5" stroke-linecap="round"/>
<ellipse cx="348.6" cy="209.7" rx="1.75" ry="1.25" fill="#6e6024" stroke="#3e320c" stroke-width="0.5"/>
<line x1="361.1" y1="209.9" x2="352.2" y2="269.2" stroke="#4832fc" stroke-width="3.5" stroke-linecap="round"/>
<ellipse cx="361.1" cy="209.9" rx="1.75" ry="1.25" fill="#6e6024" stroke="#3e320c" stroke-width="0.5"/>
<line x1="337.0" y1="210.4" x2="347.3" y2="265.8" stroke="#4c36ff" stroke-width="3.5" stroke-linecap="round"/>
<ellipse cx="337.0" cy="210.4" rx="1.75" ry="1.25" fill="#6e6024" stroke="#3e320c" stroke-width="0.5"/>
<line x1="305.5" y1="210.5" x2="311.8" y2="269.5" stroke="#4832fc" stroke-width="3.5" stroke-linecap="round"/>
<ellipse cx="305.5" cy="210.5" rx="1.75" ry="1.25" fill="#6e6024" stroke="#3e320c" stroke-width="0.5"/>
<line x1="374.2" y1="211.0" x2="367.6" y2="265.7" stroke="#4630fa" stroke-width="3.5" stroke-linecap="round"/>
<ellipse cx="374.2" cy="211.0" rx="1.75" ry="1.25" fill="#6e6024" stroke="#3e320c" stroke-width="0.5"/>
<line x1="341.4" y1="212.8" x2="353.5" y2="267.5" stroke="#4c36ff" stroke-width="3.5" stroke-linecap="round"/>
<ellipse cx="341.4" cy="212.8" rx="1.75" ry="1.25" fill="#6e6024" stroke="#3e320c" stroke-width="0.5"/>
<line x1="322.3" y1="212.9" x2="329.8" y2="268.3" stroke="#4832fc" stroke-width="3.5" stroke-linecap="round"/>
<ellipse cx="322.3" cy="212.9" rx="1.75" ry="1.25" fill="#6e6024" stroke="#3e320c" stroke-width="0.5"/>
<line x1="361.6" y1="213.0" x2="352.8" y2="270.2" stroke="#4832fc" stroke-width="3.5" stroke-linecap="round"/>
<ellipse cx="361.6" cy="213.0" rx="1.75" ry="1.25" fill="#6e6024" stroke="#3e320c" stroke-width="0.5"/>
<line x1="312.6" y1="213.5" x2="320.7" y2="267.9" stroke="#4630fa" stroke-width="3.5" stroke-linecap="round"/>
<ellipse cx="312.6" cy="213.5" rx="1.75" ry="1.25" fill="#6e6024" stroke="#3e320c" stroke-width="0.5"/>
<line x1="352.5" y1="213.7" x2="359.7" y2="266.8" stroke="#4630fa" stroke-width="3.5" stroke-linecap="round"/>
<ellipse cx="352.5" cy="213.7" rx="1.75" ry="1.25" fill="#6e6024" stroke="#3e320c" stroke-width="0.5"/>
<line x1="379.4" y1="213.9" x2="383.1" y2="268.7" stroke="#4c36ff" stroke-width="3.5" stroke-linecap="round"/>
<ellipse cx="379.4" cy="213.9" rx="1.75" ry="1.25" fill="#6e6024" stroke="#3e320c" stroke-width="0.5"/>
<line x1="389.0" y1="214.0" x2="393.8" y2="271.7" stroke="#4832fc" stroke-width="3.5" stroke-linecap="round"/>
<ellipse cx="389.0" cy="214.0" rx="1.75" ry="1.25" fill="#6e6024" stroke="#3e320c" stroke-width="0.5"/>
<line x1="402.9" y1="214.2" x2="405.9" y2="270.0" stroke="#4630fa" stroke-width="3.5" stroke-linecap="round"/>
<ellipse cx="402.9" cy="214.2" rx="1.75" ry="1.25" fill="#6e6024" stroke="#3e320c" stroke-width="0.5"/>
<line x1="293.7" y1="214.5" x2="304.7" y2="269.3" stroke="#4c36ff" stroke-width="3.5" stroke-linecap="round"/>
<ellipse cx="293.7" cy="214.5" rx="1.75" ry="1.25" fill="#6e6024" stroke="#3e320c" stroke-width="0.5"/>
<line x1="301.5" y1="215.1" x2="303.3" y2="272.9" stroke="#4630fa" stroke-width="3.5" stroke-linecap="round"/>
<ellipse cx="301.5" cy="215.1" rx="1.75" ry="1.25" fill="#6e6024" stroke="#3e320c" stroke-width="0.5"/>
<line x1="332.7" y1="215.4" x2="338.1" y2="268.2" stroke="#4630fa" stroke-width="3.5" stroke-linecap="round"/>
<ellipse cx="332.7" cy="215.4" rx="1.75" ry="1.25" fill="#6e6024" stroke="#3e320c" stroke-width="0.5"/>
<line x1="282.6" y1="215.6" x2="289.8" y2="268.6" stroke="#4c36ff" stroke-width="3.5" stroke-linecap="round"/>
<ellipse cx="282.6" cy="215.6" rx="1.75" ry="1.25" fill="#6e6024" stroke="#3e320c" stroke-width="0.5"/>
<line x1="369.7" y1="216.6" x2="358.2" y2="273.3" stroke="#4832fc" stroke-width="3.5" stroke-linecap="round"/>
<ellipse cx="369.7" cy="216.6" rx="1.75" ry="1.25" fill="#6e6024" stroke="#3e320c" stroke-width="0.5"/>
<line x1="362.9" y1="217.9" x2="359.7" y2="269.7" stroke="#3e26ee" stroke-width="3.5" stroke-linecap="round"/>
<ellipse cx="362.9" cy="217.9" rx="1.75" ry="1.25" fill="#6e6024" stroke="#3e320c" stroke-width="0.5"/>
<line x1="333.2" y1="217.9" x2="347.2" y2="271.5" stroke="#4832fc" stroke-width="3.5" stroke-linecap="round"/>
<ellipse cx="333.2" cy="217.9" rx="1.75" ry="1.25" fill="#6e6024" stroke="#3e320c" stroke-width="0.5"/>
<line x1="320.5" y1="219.0" x2="312.0" y2="271.7" stroke="#4832fc" stroke-width="3.5" stroke-linecap="round"/>
<ellipse cx="320.5" cy="219.0" rx="1.75" ry="1.25" fill="#6e6024" stroke="#3e320c" stroke-width="0.5"/>
<line x1="354.9" y1="219.1" x2="344.1" y2="274.4" stroke="#4c36ff" stroke-width="3.5" stroke-linecap="round"/>
<ellipse cx="354.9" cy="219.1" rx="1.75" ry="1.25" fill="#6e6024" stroke="#3e320c" stroke-width="0.5"/>
<line x1="375.5" y1="219.4" x2="368.6" y2="273.0" stroke="#4c36ff" stroke-width="3.5" stroke-linecap="round"/>
<ellipse cx="375.5" cy="219.4" rx="1.75" ry="1.25" fill="#6e6024" stroke="#3e320c" stroke-width="0.5"/>
<line x1="311.7" y1="219.4" x2="300.5" y2="275.5" stroke="#3e26ee" stroke-width="3.5" stroke-linecap="round"/>
<ellipse cx="311.7" cy="219.4" rx="1.75" ry="1.25" fill="#6e6024" stroke="#3e320c" stroke-width="0.5"/>
<line x1="278.6" y1="219.5" x2="283.0" y2="270.5" stroke="#4c36ff" stroke-width="3.5" stroke-linecap="round"/>
<ellipse cx="278.6" cy="219.5" rx="1.75" ry="1.25" fill="#6e6024" stroke="#3e320c" stroke-width="0.5"/>
<line x1="302.8" y1="219.7" x2="291.7" y2="271.0" stroke="#3e26ee" stroke-width="3.5" stroke-linecap="round"/>
<ellipse cx="302.8" cy="219.7" rx="1.75" ry="1.25" fill="#6e6024" stroke="#3e320c" stroke-width="0.5"/>
<line x1="292.7" y1="219.9" x2="305.6" y2="270.5" stroke="#3e26ee" stroke-width="3.5" stroke-linecap="round"/>
<ellipse cx="292.7" cy="219.9" rx="1.75" ry="1.25" fill="#6e6024" stroke="#3e320c" stroke-width="0.5"/>
<line x1="399.5" y1="220.6" x2="383.7" y2="276.8" stroke="#4c36ff" stroke-width="3.5" stroke-linecap="round"/>
<ellipse cx="399.5" cy="220.6" rx="1.75" ry="1.25" fill="#6e6024" stroke="#3e320c" stroke-width="0.5"/>
<line x1="343.1" y1="220.8" x2="330.9" y2="276.7" stroke="#3e26ee" stroke-width="3.5" stroke-linecap="round"/>
<ellipse cx="343.1" cy="220.8" rx="1.75" ry="1.25" fill="#6e6024" stroke="#3e320c" stroke-width="0.5"/>
<line x1="386.5" y1="221.0" x2="392.0" y2="272.6" stroke="#3e26ee" stroke-width="3.5" stroke-linecap="round"/>
<ellipse cx="386.5" cy="221.0" rx="1.75" ry="1.25" fill="#6e6024" stroke="#3e320c" stroke-width="0.5"/>
<line x1="408.2" y1="221.2" x2="409.8" y2="271.6" stroke="#4c36ff" stroke-width="3.5" stroke-linecap="round"/>
<ellipse cx="408.2" cy="221.2" rx="1.75" ry="1.25" fill="#6e6024" stroke="#3e320c" stroke-width="0.5"/>
<line x1="287.9" y1="223.0" x2="292.5" y2="272.8" stroke="#4630fa" stroke-width="3.5" stroke-linecap="round"/>
<ellipse cx="287.9" cy="223.0" rx="1.75" ry="1.25" fill="#6e6024" stroke="#3e320c" stroke-width="0.5"/>
<line x1="370.4" y1="223.4" x2="357.1" y2="274.2" stroke="#4832fc" stroke-width="3.5" stroke-linecap="round"/>
<ellipse cx="370.4" cy="223.4" rx="1.75" ry="1.25" fill="#6e6024" stroke="#3e320c" stroke-width="0.5"/>
<line x1="310.6" y1="223.6" x2="311.6" y2="275.3" stroke="#4832fc" stroke-width="3.5" stroke-linecap="round"/>
<ellipse cx="310.6" cy="223.6" rx="1.75" ry="1.25" fill="#6e6024" stroke="#3e320c" stroke-width="0.5"/>
<line x1="389.9" y1="223.7" x2="377.1" y2="275.1" stroke="#3e26ee" stroke-width="3.5" stroke-linecap="round"/>
<ellipse cx="389.9" cy="223.7" rx="1.75" ry="1.25" fill="#6e6024" stroke="#3e320c" stroke-width="0.5"/>
<line x1="352.8" y1="224.2" x2="343.9" y2="278.2" stroke="#4c36ff" stroke-width="3.5" stroke-linecap="round"/>
<ellipse cx="352.8" cy="224.2" rx="1.75" ry="1.25" fill="#6e6024" stroke="#3e320c" stroke-width="0.5"/>
<line x1="360.7" y1="224.2" x2="370.9" y2="277.8" stroke="#4c36ff" stroke-width="3.5" stroke-linecap="round"/>
<ellipse cx="360.7" cy="224.2" rx="1.75" ry="1.25" fill="#6e6024" stroke="#3e320c" stroke-width="0.5"/>
<line x1="318.3" y1="224.2" x2="331.7" y2="276.5" stroke="#4c36ff" stroke-width="3.5" stroke-linecap="round"/>
<ellipse cx="318.3" cy="224.2" rx="1.75" ry="1.25" fill="#6e6024" stroke="#3e320c" stroke-width="0.5"/>
<line x1="401.5" y1="224.2" x2="414.2" y2="276.5" stroke="#4832fc" stroke-width="3.5" stroke-linecap="round"/>
<ellipse cx="401.5" cy="224.2" rx="1.75" ry="1.25" fill="#6e6024" stroke="#3e320c" stroke-width="0.5"/>
<line x1="275.2" y1="224.3" x2="284.1" y2="273.7" stroke="#4832fc" stroke-width="3.5" stroke-linecap="round"/>
<ellipse cx="275.2" cy="224.3" rx="1.75" ry="1.25" fill="#6e6024" stroke="#3e320c" stroke-width="0.5"/>
<line x1="297.6" y1="224.6" x2="282.8" y2="273.8" stroke="#4630fa" stroke-width="3.5" stroke-linecap="round"/>
<ellipse cx="297.6" cy="224.6" rx="1.75" ry="1.25" fill="#6e6024" stroke="#3e320c" stroke-width="0.5"/>
<line x1="340.4" y1="225.3" x2="347.6" y2="277.7" stroke="#4630fa" stroke-width="3.5" stroke-linecap="round"/>
<ellipse cx="340.4" cy="225.3" rx="1.75" ry="1.25" fill="#6e6024" stroke="#3e320c" stroke-width="0.5"/>
<line x1="381.1" y1="225.3" x2="387.5" y2="274.3" stroke="#4c36ff" stroke-width="3.5" stroke-linecap="round"/>
<ellipse cx="381.1" cy="225.3" rx="1.75" ry="1.25" fill="#6e6024" stroke="#3e320c" stroke-width="0.5"/>
<line x1="412.1" y1="226.1" x2="416.6" y2="277.1" stroke="#4832fc" stroke-width="3.5" stroke-linecap="round"/>
<ellipse cx="412.1" cy="226.1" rx="1.75" ry="1.25" fill="#6e6024" stroke="#3e320c" stroke-width="0.5"/>
<line x1="329.5" y1="226.6" x2="330.7" y2="274.8" stroke="#4630fa" stroke-width="3.5" stroke-linecap="round"/>
<ellipse cx="329.5" cy="226.6" rx="1.75" ry="1.25" fill="#6e6024" stroke="#3e320c" stroke-width="0.5"/>
</g>
<polygon points="289.3,184.4 397.7,184.4 415.8,227.1 269.9,227.1" fill="none" stroke="#2e8a2e" stroke-width="1"/>
<rect x="269.9" y="227.1" width="145.9" height="7.5" fill="#127414"/>
<text x="346.2" y="233.9" font-family='"Liberation Sans",sans-serif' font-size="7.2" text-anchor="middle" fill="#fff" textLength="28" lengthAdjust="spacingAndGlyphs">ITO Glass</text>
<text x="349.4" y="252.5" font-family='"Liberation Sans",sans-serif' font-size="7" text-anchor="middle" fill="#fff" textLength="43.6" lengthAdjust="spacingAndGlyphs">ZnO Nanowires</text>
<text x="392.7" y="216" font-family='"Liberation Sans",sans-serif' font-size="7" text-anchor="middle" fill="#fff" >Au</text>
<text x="401" y="287" font-family='"Liberation Sans",sans-serif' font-size="7" text-anchor="start" fill="#fff" textLength="48.6" lengthAdjust="spacingAndGlyphs">ZnO Seed Layer</text>
<text x="401" y="302.7" font-family='"Liberation Sans",sans-serif' font-size="7" text-anchor="start" fill="#fff" textLength="35.7" lengthAdjust="spacingAndGlyphs">Si Substrate</text>
<text x="431.3" y="265.3" font-family='"Liberation Sans",sans-serif' font-size="6.5" text-anchor="middle" fill="#fff" >Ti/Au</text>
<path d="M344.00,201.00 L341.10,196.60 L321.00,205.70 L335.00,214.30 L352.70,218.50" fill="none" stroke="#44e044" stroke-width="1.2"/>
<path d="M350.20,205.10 L362.40,204.50 L357.60,213.70" fill="none" stroke="#44e044" stroke-width="1.2"/>
<path d="M412.20,215.30 L446.50,215.30 L446.50,222.80" fill="none" stroke="#222" stroke-width="1.2"/>
<circle cx="446.5" cy="224" r="1.3" fill="#fff" stroke="#222" stroke-width="0.9"/>
<text x="446.5" y="235.5" font-family='"Liberation Sans",sans-serif' font-size="10" text-anchor="middle" fill="#222" stroke="#222" stroke-width="0.15" >V</text>
<circle cx="446.5" cy="240.5" r="1.3" fill="#fff" stroke="#222" stroke-width="0.9"/>
<path d="M446.50,241.80 L446.50,249.00 L443.50,249.00" fill="none" stroke="#222" stroke-width="1.2"/>
</g>
<g id="pe">
<rect x="481.3" y="3.5" width="178.3" height="132.5" fill="none" stroke="#7a7a7a" stroke-width="1.05"/>
<line x1="481.3" y1="17.0" x2="483.8" y2="17.0" stroke="#808080" stroke-width="0.9" />
<line x1="481.3" y1="30.92" x2="483.8" y2="30.92" stroke="#808080" stroke-width="0.9" />
<line x1="481.3" y1="44.84" x2="483.8" y2="44.84" stroke="#808080" stroke-width="0.9" />
<line x1="481.3" y1="58.76" x2="483.8" y2="58.76" stroke="#808080" stroke-width="0.9" />
<line x1="481.3" y1="72.68" x2="483.8" y2="72.68" stroke="#808080" stroke-width="0.9" />
<line x1="481.3" y1="86.6" x2="483.8" y2="86.6" stroke="#808080" stroke-width="0.9" />
<line x1="481.3" y1="100.52" x2="483.8" y2="100.52" stroke="#808080" stroke-width="0.9" />
<line x1="481.3" y1="114.44" x2="483.8" y2="114.44" stroke="#808080" stroke-width="0.9" />
<line x1="481.3" y1="128.36" x2="483.8" y2="128.36" stroke="#808080" stroke-width="0.9" />
<line x1="492.44375" y1="136.0" x2="492.44375" y2="134.2" stroke="#808080" stroke-width="0.9" />
<line x1="503.58750000000003" y1="136.0" x2="503.58750000000003" y2="133.5" stroke="#808080" stroke-width="0.9" />
<line x1="514.73125" y1="136.0" x2="514.73125" y2="134.2" stroke="#808080" stroke-width="0.9" />
<line x1="525.875" y1="136.0" x2="525.875" y2="133.5" stroke="#808080" stroke-width="0.9" />
<line x1="537.01875" y1="136.0" x2="537.01875" y2="134.2" stroke="#808080" stroke-width="0.9" />
<line x1="548.1625" y1="136.0" x2="548.1625" y2="133.5" stroke="#808080" stroke-width="0.9" />
<line x1="559.30625" y1="136.0" x2="559.30625" y2="134.2" stroke="#808080" stroke-width="0.9" />
<line x1="570.45" y1="136.0" x2="570.45" y2="133.5" stroke="#808080" stroke-width="0.9" />
<line x1="581.59375" y1="136.0" x2="581.59375" y2="134.2" stroke="#808080" stroke-width="0.9" />
<line x1="592.7375" y1="136.0" x2="592.7375" y2="133.5" stroke="#808080" stroke-width="0.9" />
<line x1="603.88125" y1="136.0" x2="603.88125" y2="134.2" stroke="#808080" stroke-width="0.9" />
<line x1="615.025" y1="136.0" x2="615.025" y2="133.5" stroke="#808080" stroke-width="0.9" />
<line x1="626.16875" y1="136.0" x2="626.16875" y2="134.2" stroke="#808080" stroke-width="0.9" />
<line x1="637.3125" y1="136.0" x2="637.3125" y2="133.5" stroke="#808080" stroke-width="0.9" />
<line x1="648.45625" y1="136.0" x2="648.45625" y2="134.2" stroke="#808080" stroke-width="0.9" />
<text x="481.3" y="144.8" font-family='"Liberation Sans",sans-serif' font-size="8" text-anchor="middle" fill="#222" stroke="#222" stroke-width="0.15" >320</text>
<text x="503.58750000000003" y="144.8" font-family='"Liberation Sans",sans-serif' font-size="8" text-anchor="middle" fill="#222" stroke="#222" stroke-width="0.15" >340</text>
<text x="525.875" y="144.8" font-family='"Liberation Sans",sans-serif' font-size="8" text-anchor="middle" fill="#222" stroke="#222" stroke-width="0.15" >360</text>
<text x="548.1625" y="144.8" font-family='"Liberation Sans",sans-serif' font-size="8" text-anchor="middle" fill="#222" stroke="#222" stroke-width="0.15" >380</text>
<text x="570.45" y="144.8" font-family='"Liberation Sans",sans-serif' font-size="8" text-anchor="middle" fill="#222" stroke="#222" stroke-width="0.15" >400</text>
<text x="592.7375" y="144.8" font-family='"Liberation Sans",sans-serif' font-size="8" text-anchor="middle" fill="#222" stroke="#222" stroke-width="0.15" >420</text>
<text x="615.025" y="144.8" font-family='"Liberation Sans",sans-serif' font-size="8" text-anchor="middle" fill="#222" stroke="#222" stroke-width="0.15" >440</text>
<text x="637.3125" y="144.8" font-family='"Liberation Sans",sans-serif' font-size="8" text-anchor="middle" fill="#222" stroke="#222" stroke-width="0.15" >460</text>
<text x="659.6" y="144.8" font-family='"Liberation Sans",sans-serif' font-size="8" text-anchor="middle" fill="#222" stroke="#222" stroke-width="0.15" >480</text>
<text x="540" y="158.3" font-family='"Liberation Sans",sans-serif' font-size="8.3" text-anchor="start" fill="#2a2a2a" stroke="#2a2a2a" stroke-width="0.15" textLength="61.3" lengthAdjust="spacingAndGlyphs">Wavelength (nm)</text>
<text x="0" y="0" font-family='"Liberation Sans",sans-serif' font-size="8.3" text-anchor="middle" fill="#222" stroke="#222" stroke-width="0.15" transform="translate(469.6,69.6) rotate(-90)">Intensity (a.u.)</text>
<rect x="485.5" y="6.8" width="20.7" height="19.5" fill="#b2b2b2"/>
<text x="495.8" y="22" font-family='"Liberation Serif",serif' font-size="22" text-anchor="middle" fill="#111" stroke="#111" stroke-width="0.3" >e</text>
<line x1="488.4" y1="29.8" x2="506" y2="29.8" stroke="#8a8a8a" stroke-width="1.8" />
<text x="508.7" y="32.8" font-family='"Liberation Sans",sans-serif' font-size="8" text-anchor="start" fill="#222" stroke="#222" stroke-width="0.15" >100mA</text>
<line x1="488.4" y1="39.45" x2="506" y2="39.45" stroke="#f06060" stroke-width="1.2" />
<text x="508.7" y="42.45" font-family='"Liberation Sans",sans-serif' font-size="8" text-anchor="start" fill="#222" stroke="#222" stroke-width="0.15" >90mA</text>
<line x1="488.4" y1="49.1" x2="506" y2="49.1" stroke="#7878e8" stroke-width="1.2" />
<text x="508.7" y="52.1" font-family='"Liberation Sans",sans-serif' font-size="8" text-anchor="start" fill="#222" stroke="#222" stroke-width="0.15" >80mA</text>
<line x1="488.4" y1="58.75" x2="506" y2="58.75" stroke="#e8a8c8" stroke-width="1.2" />
<text x="508.7" y="61.75" font-family='"Liberation Sans",sans-serif' font-size="8" text-anchor="start" fill="#222" stroke="#222" stroke-width="0.15" >70mA</text>
<line x1="488.4" y1="68.4" x2="506" y2="68.4" stroke="#50b850" stroke-width="1.2" />
<text x="508.7" y="71.4" font-family='"Liberation Sans",sans-serif' font-size="8" text-anchor="start" fill="#222" stroke="#222" stroke-width="0.15" >60mA</text>
<line x1="488.4" y1="78.05" x2="506" y2="78.05" stroke="#8888e8" stroke-width="1.8" />
<text x="508.7" y="81.05" font-family='"Liberation Sans",sans-serif' font-size="8" text-anchor="start" fill="#222" stroke="#222" stroke-width="0.15" >50mA</text>
<path d="M482.00,128.28 L484.50,128.28 L487.00,127.89 L489.50,127.22 L492.00,128.09 L494.50,127.41 L497.00,127.56 L499.50,128.00 L502.00,127.83 L504.50,127.70 L507.00,128.33 L509.50,127.93 L512.00,127.61 L514.50,127.50 L517.00,128.23 L519.50,127.77 L522.00,128.14 L524.50,127.62 L527.00,127.44 L529.50,127.84 L532.00,128.18 L534.50,127.41 L537.00,128.15 L539.50,128.31 L542.00,128.17 L544.50,128.19 L547.00,127.21 L549.50,127.95 L552.00,128.24 L554.50,127.26 L557.00,127.53 L559.50,127.52 L562.00,127.83 L564.50,127.71 L567.00,127.77 L569.50,128.13 L572.00,127.20 L574.50,127.27 L577.00,127.35 L579.50,127.35 L582.00,127.28 L584.50,128.37 L587.00,128.23 L589.50,127.30 L592.00,127.80 L594.50,127.58 L597.00,127.58 L599.50,127.62 L602.00,127.98 L604.50,127.90 L607.00,127.63 L609.50,127.43 L612.00,127.59 L614.50,127.35 L617.00,127.87 L619.50,128.06 L622.00,127.66 L624.50,127.30 L627.00,127.41 L629.50,127.65 L632.00,127.93 L634.50,128.14 L637.00,127.66 L639.50,128.16 L642.00,127.95 L644.50,127.72 L647.00,127.65 L649.50,127.80 L652.00,128.04 L654.50,127.70 L657.00,128.03" fill="none" stroke="#40b040" stroke-width="0.9" stroke-linejoin="round"/>
<path d="M482.00,126.64 L484.50,127.51 L487.00,127.78 L489.50,127.10 L492.00,126.96 L494.50,127.89 L497.00,126.98 L499.50,126.90 L502.00,127.30 L504.50,127.72 L507.00,126.76 L509.50,127.12 L512.00,127.13 L514.50,127.93 L517.00,127.30 L519.50,127.97 L522.00,126.87 L524.50,127.14 L527.00,127.64 L529.50,128.02 L532.00,127.32 L534.50,126.96 L537.00,126.79 L539.50,127.45 L542.00,126.91 L544.50,127.89 L547.00,125.00 L550.00,123.00 L552.90,122.20 L555.00,123.00 L557.00,125.00 L559.00,127.94 L561.50,126.89 L564.00,127.05 L566.50,127.89 L569.00,127.63 L571.50,127.89 L574.00,127.15 L576.50,126.81 L579.00,127.07 L581.50,127.87 L584.00,127.03 L586.50,127.15 L589.00,127.27 L591.50,127.27 L594.00,127.26 L596.50,128.07 L599.00,126.85 L601.50,126.61 L604.00,128.11 L606.50,128.01 L609.00,128.18 L611.50,127.29 L614.00,128.12 L616.50,128.08 L619.00,126.96 L621.50,127.79 L624.00,127.94 L626.50,127.66 L629.00,127.43 L631.50,127.06 L634.00,127.15 L636.50,126.96 L639.00,126.71 L641.50,127.54 L644.00,127.06 L646.50,127.90 L649.00,126.67 L651.50,128.05 L654.00,127.71 L656.50,128.08" fill="none" stroke="#e8a0c8" stroke-width="0.9" stroke-linejoin="round"/>
<path d="M482.00,127.13 L484.50,126.74 L487.00,127.26 L489.50,127.55 L492.00,126.43 L494.50,127.06 L497.00,127.07 L499.50,127.88 L502.00,127.99 L504.50,126.97 L507.00,127.92 L509.50,127.72 L512.00,126.77 L514.50,127.14 L517.00,126.52 L519.50,127.76 L522.00,127.49 L524.50,127.90 L527.00,127.73 L529.50,127.50 L533.00,125.50 L535.50,121.00 L537.30,119.50 L539.50,123.00 L542.00,126.50 L544.00,127.62 L546.50,127.31 L549.00,126.49 L551.50,127.36 L554.00,126.31 L556.50,126.56 L559.00,127.69 L561.50,126.38 L564.00,126.47 L566.50,126.48 L569.00,127.88 L571.50,126.62 L574.00,126.34 L576.50,127.81 L579.00,126.52 L581.50,127.82 L584.00,127.51 L586.50,127.81 L589.00,128.01 L591.50,127.34 L594.00,127.74 L596.50,126.37 L599.00,127.68 L601.50,127.22 L604.00,127.59 L606.50,126.49 L609.00,127.65 L611.50,127.98 L614.00,126.41 L616.50,126.88 L619.00,127.32 L621.50,127.79 L624.00,126.74 L626.50,126.62 L629.00,126.75 L631.50,127.41 L634.00,127.66 L636.50,127.01 L639.00,126.96 L641.50,127.01 L644.00,126.93 L646.50,127.05 L649.00,126.45 L651.50,127.20 L654.00,128.05 L656.50,127.04" fill="none" stroke="#5555d0" stroke-width="1.0" stroke-linejoin="round"/>
<path d="M482.00,127.22 L484.50,127.62 L487.00,126.71 L489.50,126.48 L492.00,128.14 L494.50,127.03 L497.00,128.32 L499.50,128.19 L502.00,127.16 L504.50,127.32 L507.00,127.44 L509.50,127.69 L512.00,127.59 L514.50,127.52 L517.00,127.64 L519.50,128.28 L522.00,127.41 L524.50,127.26 L527.00,127.84 L529.50,126.88 L532.00,127.00 L534.00,125.00 L536.00,119.60 L538.00,122.50 L541.30,124.00 L543.50,118.00 L545.50,108.00 L547.70,104.70 L549.00,106.00 L550.50,111.00 L552.90,110.20 L555.00,114.00 L558.20,120.00 L560.50,115.00 L563.20,110.20 L565.00,114.00 L568.10,122.40 L571.00,123.00 L574.00,121.00 L577.30,119.30 L579.00,124.00 L581.00,126.50 L583.00,128.36 L585.50,127.44 L588.00,127.50 L590.50,126.42 L593.00,127.23 L595.50,127.56 L598.00,126.44 L600.50,127.63 L603.00,127.66 L605.50,126.52 L608.00,127.65 L610.50,127.33 L613.00,127.76 L615.50,127.11 L618.00,127.81 L620.50,127.88 L623.00,126.44 L625.50,126.52 L628.00,127.75 L630.50,128.33 L633.00,126.90 L635.50,127.31 L638.00,127.59 L640.50,127.04 L643.00,127.13 L645.50,127.03 L648.00,127.14 L650.50,127.59 L653.00,127.00 L655.50,127.15 L658.00,127.94" fill="none" stroke="#5a6ae8" stroke-width="0.9" stroke-linejoin="round"/>
<path d="M482.00,128.16 L484.20,126.59 L486.40,126.67 L488.60,126.83 L490.80,128.33 L493.00,127.27 L495.20,127.65 L497.40,127.00 L499.60,127.41 L501.80,127.17 L504.00,127.10 L506.20,127.57 L508.40,127.57 L510.60,128.21 L512.80,127.76 L515.00,128.26 L517.20,128.11 L519.40,128.38 L521.60,127.74 L523.80,126.73 L526.00,128.12 L528.20,128.33 L531.00,124.00 L532.50,115.00 L534.50,104.70 L536.50,115.00 L539.10,121.70 L541.00,112.00 L543.00,100.00 L545.50,92.00 L547.00,65.00 L548.20,53.30 L549.50,75.00 L550.90,93.50 L552.60,67.60 L554.20,80.00 L555.90,93.50 L557.20,85.00 L558.40,76.80 L560.00,90.00 L561.80,98.50 L563.00,78.00 L564.30,65.90 L565.50,80.00 L567.40,104.80 L569.00,112.00 L571.00,116.00 L573.50,119.30 L575.80,120.00 L577.50,123.50 L580.00,126.00 L582.00,128.21 L584.50,127.54 L587.00,127.83 L589.50,126.82 L592.00,128.06 L594.50,127.55 L597.00,126.97 L599.50,126.53 L602.00,128.11 L604.50,128.38 L607.00,126.58 L609.50,128.00 L612.00,127.22 L614.50,126.70 L617.00,126.99 L619.50,127.94 L622.00,128.15 L624.50,126.49 L627.00,127.63 L629.50,126.49 L632.00,127.84 L634.50,127.06 L637.00,128.16 L639.50,128.36 L642.00,127.41 L644.50,128.40 L647.00,127.02 L649.50,126.55 L652.00,127.60 L654.50,126.46 L657.00,126.79" fill="none" stroke="#f03838" stroke-width="0.9" stroke-linejoin="round"/>
<path d="M481.80,122.00 L483.00,117.00 L484.50,112.50 L485.60,111.20 L487.00,115.00 L489.00,119.00 L490.50,121.50 L492.00,122.20 L493.00,120.50 L494.50,124.50 L496.00,126.00 L497.00,125.37 L499.20,126.11 L501.40,125.69 L503.60,126.25 L505.80,126.30 L508.00,124.96 L510.20,124.83 L512.40,126.81 L514.60,125.42 L516.80,125.36 L519.00,127.19 L522.00,123.80 L525.00,122.00 L527.00,124.50 L529.80,117.40 L531.50,121.00 L533.80,104.70 L535.00,90.00 L536.00,73.80 L537.30,85.00 L538.70,94.00 L540.00,80.00 L541.30,68.50 L542.50,66.00 L543.50,45.00 L545.00,19.60 L546.30,40.00 L547.50,65.00 L549.20,85.00 L550.50,60.00 L552.70,34.20 L554.30,60.00 L555.90,86.80 L557.30,60.00 L558.70,41.50 L560.00,60.00 L561.30,35.00 L562.80,15.00 L564.20,30.00 L565.50,55.00 L567.00,62.00 L569.30,75.00 L570.50,90.00 L571.80,105.00 L574.20,113.20 L576.00,110.00 L578.50,105.60 L580.00,110.00 L581.00,112.50 L583.00,115.00 L586.00,120.00 L589.50,124.70 L592.00,125.50 L594.00,125.21 L596.50,126.31 L599.00,125.23 L601.50,125.72 L604.00,124.25 L606.50,125.70 L609.00,126.40 L611.50,125.37 L614.00,126.02 L616.50,125.81 L619.00,123.99 L621.50,126.07 L624.00,125.57 L626.50,124.70 L629.00,123.89 L631.50,126.40 L634.00,125.22 L636.50,125.96 L639.00,126.44 L641.50,125.94 L644.00,126.56 L646.50,124.98 L649.00,126.20 L651.50,125.13 L654.00,126.61 L655.50,121.00 L657.30,118.50 L659.00,125.00" fill="none" stroke="#3a3a3a" stroke-width="0.85" stroke-linejoin="round"/>
<rect x="588.7" y="15.1" width="60.1" height="54.3" fill="#000"/>
<ellipse cx="617" cy="55" rx="9" ry="12" fill="url(#ge2)" opacity="0.75"/>
<ellipse cx="613.5" cy="61" rx="5" ry="5" fill="url(#ge2)" opacity="0.7"/>
<ellipse cx="626" cy="46" rx="5" ry="3" fill="url(#ge2)" opacity="0.8"/>
<ellipse cx="618.9" cy="42" rx="8" ry="8" fill="url(#ge)"/>
<text x="596.3" y="23.3" font-family='"Liberation Sans",sans-serif' font-size="7.2" text-anchor="start" fill="#fff" textLength="41" lengthAdjust="spacingAndGlyphs">100mA@30V</text>
<line x1="589" y1="63.6" x2="605.7" y2="63.6" stroke="#ddd" stroke-width="1.2" />
<circle cx="642.5" cy="61" r="0.9" fill="#aab"/>
</g>
<g id="pf">
<rect x="481.0" y="169.5" width="178.79999999999995" height="132.8" fill="none" stroke="#7a7a7a" stroke-width="1.05"/>
<line x1="493.77142857142854" y1="302.3" x2="493.77142857142854" y2="300.5" stroke="#808080" stroke-width="0.9" />
<line x1="506.54285714285714" y1="302.3" x2="506.54285714285714" y2="299.3" stroke="#808080" stroke-width="0.9" />
<line x1="519.3142857142857" y1="302.3" x2="519.3142857142857" y2="300.5" stroke="#808080" stroke-width="0.9" />
<line x1="532.0857142857143" y1="302.3" x2="532.0857142857143" y2="299.3" stroke="#808080" stroke-width="0.9" />
<line x1="544.8571428571429" y1="302.3" x2="544.8571428571429" y2="300.5" stroke="#808080" stroke-width="0.9" />
<line x1="557.6285714285714" y1="302.3" x2="557.6285714285714" y2="299.3" stroke="#808080" stroke-width="0.9" />
<line x1="570.4" y1="302.3" x2="570.4" y2="300.5" stroke="#808080" stroke-width="0.9" />
<line x1="583.1714285714286" y1="302.3" x2="583.1714285714286" y2="299.3" stroke="#808080" stroke-width="0.9" />
<line x1="595.9428571428571" y1="302.3" x2="595.9428571428571" y2="300.5" stroke="#808080" stroke-width="0.9" />
<line x1="608.7142857142857" y1="302.3" x2="608.7142857142857" y2="299.3" stroke="#808080" stroke-width="0.9" />
<line x1="621.4857142857143" y1="302.3" x2="621.4857142857143" y2="300.5" stroke="#808080" stroke-width="0.9" />
<line x1="634.2571428571428" y1="302.3" x2="634.2571428571428" y2="299.3" stroke="#808080" stroke-width="0.9" />
<line x1="647.0285714285714" y1="302.3" x2="647.0285714285714" y2="300.5" stroke="#808080" stroke-width="0.9" />
<line x1="659.8" y1="292.81428571428575" x2="658.0" y2="292.81428571428575" stroke="#808080" stroke-width="0.9" />
<line x1="659.8" y1="283.3285714285714" x2="656.8" y2="283.3285714285714" stroke="#808080" stroke-width="0.9" />
<line x1="659.8" y1="273.84285714285716" x2="658.0" y2="273.84285714285716" stroke="#808080" stroke-width="0.9" />
<line x1="659.8" y1="264.3571428571429" x2="656.8" y2="264.3571428571429" stroke="#808080" stroke-width="0.9" />
<line x1="659.8" y1="254.87142857142857" x2="658.0" y2="254.87142857142857" stroke="#808080" stroke-width="0.9" />
<line x1="659.8" y1="245.3857142857143" x2="656.8" y2="245.3857142857143" stroke="#808080" stroke-width="0.9" />
<line x1="659.8" y1="235.9" x2="658.0" y2="235.9" stroke="#808080" stroke-width="0.9" />
<line x1="659.8" y1="226.4142857142857" x2="656.8" y2="226.4142857142857" stroke="#808080" stroke-width="0.9" />
<line x1="659.8" y1="216.92857142857144" x2="658.0" y2="216.92857142857144" stroke="#808080" stroke-width="0.9" />
<line x1="659.8" y1="207.44285714285712" x2="656.8" y2="207.44285714285712" stroke="#808080" stroke-width="0.9" />
<line x1="659.8" y1="197.95714285714286" x2="658.0" y2="197.95714285714286" stroke="#808080" stroke-width="0.9" />
<line x1="659.8" y1="188.4714285714286" x2="656.8" y2="188.4714285714286" stroke="#808080" stroke-width="0.9" />
<line x1="659.8" y1="178.9857142857143" x2="658.0" y2="178.9857142857143" stroke="#808080" stroke-width="0.9" />
<line x1="481.0" y1="178.5" x2="483.5" y2="178.5" stroke="#808080" stroke-width="0.9" />
<line x1="481.0" y1="187.34" x2="483.5" y2="187.34" stroke="#808080" stroke-width="0.9" />
<line x1="481.0" y1="196.18" x2="483.5" y2="196.18" stroke="#808080" stroke-width="0.9" />
<line x1="481.0" y1="205.02" x2="483.5" y2="205.02" stroke="#808080" stroke-width="0.9" />
<line x1="481.0" y1="213.86" x2="483.5" y2="213.86" stroke="#808080" stroke-width="0.9" />
<line x1="481.0" y1="222.7" x2="483.5" y2="222.7" stroke="#808080" stroke-width="0.9" />
<line x1="481.0" y1="231.54" x2="483.5" y2="231.54" stroke="#808080" stroke-width="0.9" />
<line x1="481.0" y1="240.38" x2="483.5" y2="240.38" stroke="#808080" stroke-width="0.9" />
<line x1="481.0" y1="249.22" x2="483.5" y2="249.22" stroke="#808080" stroke-width="0.9" />
<line x1="481.0" y1="258.06" x2="483.5" y2="258.06" stroke="#808080" stroke-width="0.9" />
<line x1="481.0" y1="266.9" x2="483.5" y2="266.9" stroke="#808080" stroke-width="0.9" />
<line x1="481.0" y1="275.74" x2="483.5" y2="275.74" stroke="#808080" stroke-width="0.9" />
<line x1="481.0" y1="284.58" x2="483.5" y2="284.58" stroke="#808080" stroke-width="0.9" />
<line x1="481.0" y1="293.42" x2="483.5" y2="293.42" stroke="#808080" stroke-width="0.9" />
<text x="481.0" y="311.6" font-family='"Liberation Sans",sans-serif' font-size="8" text-anchor="middle" fill="#222" stroke="#222" stroke-width="0.15" >40</text>
<text x="506.54285714285714" y="311.6" font-family='"Liberation Sans",sans-serif' font-size="8" text-anchor="middle" fill="#222" stroke="#222" stroke-width="0.15" >50</text>
<text x="532.0857142857143" y="311.6" font-family='"Liberation Sans",sans-serif' font-size="8" text-anchor="middle" fill="#222" stroke="#222" stroke-width="0.15" >60</text>
<text x="557.6285714285714" y="311.6" font-family='"Liberation Sans",sans-serif' font-size="8" text-anchor="middle" fill="#222" stroke="#222" stroke-width="0.15" >70</text>
<text x="583.1714285714286" y="311.6" font-family='"Liberation Sans",sans-serif' font-size="8" text-anchor="middle" fill="#222" stroke="#222" stroke-width="0.15" >80</text>
<text x="608.7142857142857" y="311.6" font-family='"Liberation Sans",sans-serif' font-size="8" text-anchor="middle" fill="#222" stroke="#222" stroke-width="0.15" >90</text>
<text x="634.2571428571428" y="311.6" font-family='"Liberation Sans",sans-serif' font-size="8" text-anchor="middle" fill="#222" stroke="#222" stroke-width="0.15" >100</text>
<text x="659.8" y="311.6" font-family='"Liberation Sans",sans-serif' font-size="8" text-anchor="middle" fill="#222" stroke="#222" stroke-width="0.15" >110</text>
<text x="662.3" y="305.2" font-family='"Liberation Sans",sans-serif' font-size="8" text-anchor="start" fill="#222" stroke="#222" stroke-width="0.15" >0</text>
<text x="662.3" y="286.2285714285714" font-family='"Liberation Sans",sans-serif' font-size="8" text-anchor="start" fill="#222" stroke="#222" stroke-width="0.15" >10</text>
<text x="662.3" y="267.25714285714287" font-family='"Liberation Sans",sans-serif' font-size="8" text-anchor="start" fill="#222" stroke="#222" stroke-width="0.15" >20</text>
<text x="662.3" y="248.2857142857143" font-family='"Liberation Sans",sans-serif' font-size="8" text-anchor="start" fill="#222" stroke="#222" stroke-width="0.15" >30</text>
<text x="662.3" y="229.31428571428572" font-family='"Liberation Sans",sans-serif' font-size="8" text-anchor="start" fill="#222" stroke="#222" stroke-width="0.15" >40</text>
<text x="662.3" y="210.34285714285713" font-family='"Liberation Sans",sans-serif' font-size="8" text-anchor="start" fill="#222" stroke="#222" stroke-width="0.15" >50</text>
<text x="662.3" y="191.3714285714286" font-family='"Liberation Sans",sans-serif' font-size="8" text-anchor="start" fill="#222" stroke="#222" stroke-width="0.15" >60</text>
<text x="662.3" y="172.4" font-family='"Liberation Sans",sans-serif' font-size="8" text-anchor="start" fill="#222" stroke="#222" stroke-width="0.15" >70</text>
<text x="531.3" y="324.6" font-family='"Liberation Sans",sans-serif' font-size="8.3" text-anchor="start" fill="#222" stroke="#222" stroke-width="0.15" textLength="78.3" lengthAdjust="spacingAndGlyphs">Injection Current (mA)</text>
<text x="0" y="0" font-family='"Liberation Sans",sans-serif' font-size="8" text-anchor="middle" fill="#222" stroke="#222" stroke-width="0.15" transform="translate(470.3,240.9) rotate(-90)">Integrated intensity (a.u.)</text>
<text x="0" y="0" font-family='"Liberation Sans",sans-serif' font-size="8" text-anchor="middle" fill="#222" stroke="#222" stroke-width="0.15" transform="translate(680.8,239.2) rotate(-90)" textLength="72" lengthAdjust="spacingAndGlyphs">Output power (nW)</text>
<rect x="486" y="173.3" width="19.5" height="19.7" fill="#b2b2b2"/>
<text x="495.8" y="190" font-family='"Liberation Serif",serif' font-size="22" text-anchor="middle" fill="#111" stroke="#111" stroke-width="0.3" >f</text>
<circle cx="494.4" cy="198.7" r="2.2" fill="#ee1111"/>
<text x="503.7" y="201.1" font-family='"Liberation Sans",sans-serif' font-size="8" text-anchor="start" fill="#222" stroke="#222" stroke-width="0.15" >Integrated intensity</text>
<polygon points="494.4,208.2 497.29999999999995,211.1 494.4,214.0 491.5,211.1" fill="#2040f0"/>
<text x="505" y="213.5" font-family='"Liberation Sans",sans-serif' font-size="8" text-anchor="start" fill="#222" stroke="#222" stroke-width="0.15" >Output power</text>
<line x1="500.4" y1="293.4" x2="571.2" y2="286.5" stroke="#222" stroke-width="1.6" stroke-dasharray="4.5,3"/>
<line x1="558.1" y1="289" x2="645" y2="179.3" stroke="#222" stroke-width="1.6" stroke-dasharray="4.5,3"/>
<circle cx="506.7" cy="294.1" r="2.4" fill="#ee1111"/>
<polygon points="506.7,293.70000000000005 509.59999999999997,296.6 506.7,299.5 503.8,296.6" fill="#2040f0"/>
<circle cx="532.3" cy="291.9" r="2.4" fill="#ee1111"/>
<polygon points="532.3,291.6 535.1999999999999,294.5 532.3,297.4 529.4,294.5" fill="#2040f0"/>
<circle cx="558.1" cy="286.5" r="2.4" fill="#ee1111"/>
<polygon points="558.1,279.5 561.0,282.4 558.1,285.29999999999995 555.2,282.4" fill="#2040f0"/>
<circle cx="583.6" cy="258.2" r="2.4" fill="#ee1111"/>
<polygon points="583.6,260.70000000000005 586.5,263.6 583.6,266.5 580.7,263.6" fill="#2040f0"/>
<circle cx="608.8" cy="234" r="2.4" fill="#ee1111"/>
<polygon points="608.8,210.6 611.6999999999999,213.5 608.8,216.4 605.9,213.5" fill="#2040f0"/>
<circle cx="634.4" cy="186.8" r="2.4" fill="#ee1111"/>
<polygon points="634.4,173.5 637.3,176.4 634.4,179.3 631.5,176.4" fill="#2040f0"/>
</g>
</svg></body></html>
